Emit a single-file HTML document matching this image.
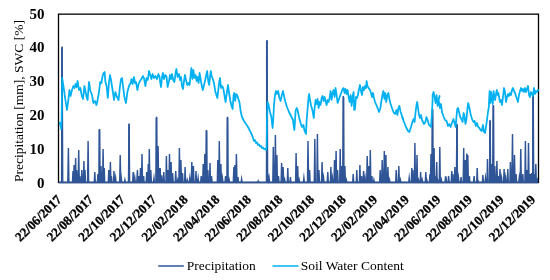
<!DOCTYPE html>
<html><head><meta charset="utf-8"><title>Precipitation and Soil Water Content</title>
<style>
html,body{margin:0;padding:0;background:#fff;}
body{width:550px;height:280px;overflow:hidden;}
svg{display:block;font-family:"Liberation Serif","Times New Roman",serif;}
.b{font-weight:bold;font-size:14px;fill:#000;}
.r{font-size:13.5px;fill:#000;}
.y{font-size:15px;}
.x{font-size:13.05px;stroke:#000;stroke-width:0.3px;}
</style></head><body>
<svg width="550" height="280" viewBox="0 0 550 280">
<rect x="0" y="0" width="550" height="280" fill="#fff"/>
<rect x="58.5" y="14.15" width="480.0" height="168.35" fill="none" stroke="#000" stroke-width="1.3"/>
<clipPath id="pc"><rect x="58.5" y="14.0" width="480.0" height="169.3"/></clipPath>
<polyline clip-path="url(#pc)" points="58.5,182.5 59.0,182.5 59.5,182.5 60.1,182.5 60.6,182.5 61.1,182.5 61.6,182.5 62.1,46.4 62.7,182.5 63.2,182.5 63.7,182.5 64.2,182.5 64.7,182.5 65.2,182.5 65.8,182.5 66.3,182.5 66.8,182.5 67.3,182.5 67.8,182.5 68.4,148.0 68.9,182.5 69.4,182.5 69.9,182.5 70.4,182.5 71.0,182.5 71.5,182.5 72.0,182.5 72.5,182.5 73.0,171.0 73.5,182.5 74.1,165.0 74.6,182.5 75.1,182.5 75.6,158.0 76.1,182.5 76.7,170.0 77.2,182.5 77.7,182.5 78.2,182.5 78.7,150.0 79.3,182.5 79.8,176.0 80.3,182.5 80.8,182.5 81.3,182.5 81.8,170.0 82.4,182.5 82.9,182.5 83.4,182.5 83.9,161.0 84.4,182.5 85.0,170.0 85.5,182.5 86.0,182.5 86.5,182.5 87.0,182.5 87.6,182.5 88.1,141.0 88.6,182.5 89.1,182.5 89.6,182.5 90.1,182.5 90.7,182.5 91.2,182.5 91.7,182.5 92.2,182.5 92.7,182.5 93.3,182.5 93.8,182.5 94.3,182.5 94.8,172.0 95.3,182.5 95.9,182.5 96.4,182.5 96.9,182.5 97.4,182.5 97.9,174.0 98.4,182.5 99.0,182.5 99.5,128.9 100.0,182.5 100.5,182.5 101.0,166.0 101.6,182.5 102.1,182.5 102.6,182.5 103.1,149.0 103.6,182.5 104.2,168.0 104.7,182.5 105.2,182.5 105.7,182.5 106.2,182.5 106.7,182.5 107.3,182.5 107.8,182.5 108.3,182.5 108.8,170.0 109.3,182.5 109.9,182.5 110.4,162.0 110.9,182.5 111.4,176.0 111.9,182.5 112.5,182.5 113.0,182.5 113.5,182.5 114.0,171.0 114.5,182.5 115.0,182.5 115.6,178.0 116.1,182.5 116.6,182.5 117.1,182.5 117.6,182.5 118.2,182.5 118.7,182.5 119.2,182.5 119.7,182.5 120.2,155.0 120.8,182.5 121.3,178.0 121.8,182.5 122.3,182.5 122.8,182.5 123.4,182.5 123.9,182.5 124.4,182.5 124.9,180.0 125.4,182.5 125.9,182.5 126.5,182.5 127.0,182.5 127.5,182.5 128.0,182.5 128.5,182.5 129.1,123.5 129.6,182.5 130.1,182.5 130.6,182.5 131.1,182.5 131.7,182.5 132.2,182.5 132.7,182.5 133.2,172.0 133.7,182.5 134.2,182.5 134.8,178.0 135.3,182.5 135.8,182.5 136.3,182.5 136.8,182.5 137.4,170.0 137.9,182.5 138.4,182.5 138.9,176.0 139.4,182.5 140.0,182.5 140.5,168.0 141.0,182.5 141.5,182.5 142.0,154.0 142.5,182.5 143.1,182.5 143.6,176.0 144.1,182.5 144.6,182.5 145.1,182.5 145.7,182.5 146.2,182.5 146.7,172.0 147.2,182.5 147.7,182.5 148.3,164.0 148.8,182.5 149.3,149.0 149.8,182.5 150.3,182.5 150.8,170.0 151.4,182.5 151.9,182.5 152.4,182.5 152.9,182.5 153.4,182.5 154.0,178.0 154.5,182.5 155.0,182.5 155.5,182.5 156.0,182.5 156.6,116.8 157.1,182.5 157.6,182.5 158.1,146.0 158.6,182.5 159.1,168.0 159.7,182.5 160.2,168.0 160.7,182.5 161.2,176.0 161.7,176.0 162.3,182.5 162.8,182.5 163.3,182.5 163.8,172.0 164.3,182.5 164.9,182.5 165.4,182.5 165.9,182.5 166.4,156.0 166.9,182.5 167.4,182.5 168.0,170.0 168.5,182.5 169.0,182.5 169.5,154.0 170.0,182.5 170.6,182.5 171.1,162.0 171.6,182.5 172.1,182.5 172.6,173.0 173.2,182.5 173.7,182.5 174.2,182.5 174.7,182.5 175.2,182.5 175.7,171.0 176.3,182.5 176.8,182.5 177.3,182.5 177.8,180.0 178.3,182.5 178.9,182.5 179.4,148.0 179.9,182.5 180.4,182.5 180.9,160.0 181.5,182.5 182.0,182.5 182.5,173.0 183.0,182.5 183.5,182.5 184.0,182.5 184.6,182.5 185.1,167.0 185.6,182.5 186.1,182.5 186.6,182.5 187.2,180.0 187.7,182.5 188.2,182.5 188.7,182.5 189.2,182.5 189.8,178.0 190.3,182.5 190.8,182.5 191.3,182.5 191.8,162.0 192.4,182.5 192.9,182.5 193.4,166.0 193.9,182.5 194.4,182.5 194.9,182.5 195.5,182.5 196.0,171.0 196.5,182.5 197.0,182.5 197.5,182.5 198.1,178.0 198.6,182.5 199.1,182.5 199.6,182.5 200.1,182.5 200.7,182.5 201.2,176.0 201.7,182.5 202.2,182.5 202.7,182.5 203.2,164.0 203.8,182.5 204.3,182.5 204.8,154.0 205.3,182.5 205.8,182.5 206.4,129.9 206.9,182.5 207.4,182.5 207.9,170.0 208.4,182.5 209.0,182.5 209.5,182.5 210.0,163.0 210.5,182.5 211.0,182.5 211.5,176.0 212.1,182.5 212.6,182.5 213.1,182.5 213.6,182.5 214.1,182.5 214.7,182.5 215.2,182.5 215.7,182.5 216.2,182.5 216.7,182.5 217.3,182.5 217.8,160.0 218.3,182.5 218.8,182.5 219.3,141.0 219.8,182.5 220.4,182.5 220.9,164.0 221.4,182.5 221.9,182.5 222.4,178.0 223.0,182.5 223.5,182.5 224.0,182.5 224.5,182.5 225.0,182.5 225.6,176.0 226.1,182.5 226.6,182.5 227.1,182.5 227.6,116.8 228.1,182.5 228.7,182.5 229.2,180.0 229.7,182.5 230.2,182.5 230.7,182.5 231.3,182.5 231.8,182.5 232.3,182.5 232.8,182.5 233.3,182.5 233.9,167.0 234.4,182.5 234.9,165.0 235.4,182.5 235.9,182.5 236.4,154.0 237.0,182.5 237.5,182.5 238.0,177.0 238.5,182.5 239.0,182.5 239.6,182.5 240.1,182.5 240.6,182.5 241.1,182.5 241.6,179.0 242.2,182.5 242.7,182.5 243.2,182.5 243.7,182.5 244.2,182.5 244.7,182.5 245.3,182.5 245.8,182.5 246.3,182.5 246.8,182.5 247.3,182.5 247.9,182.5 248.4,182.5 248.9,182.5 249.4,182.5 249.9,182.5 250.5,182.5 251.0,182.5 251.5,182.5 252.0,182.5 252.5,182.5 253.1,182.5 253.6,182.5 254.1,182.5 254.6,182.5 255.1,182.5 255.6,182.5 256.2,182.5 256.7,182.5 257.2,182.5 257.7,182.5 258.2,181.0 258.8,182.5 259.3,182.5 259.8,182.5 260.3,182.5 260.8,182.5 261.4,182.5 261.9,182.5 262.4,182.5 262.9,182.5 263.4,182.5 263.9,182.5 264.5,182.5 265.0,182.5 265.5,182.5 266.0,182.5 266.5,182.5 267.1,40.0 267.6,182.5 268.1,178.0 268.6,182.5 269.1,178.0 269.7,182.5 270.2,182.5 270.7,182.5 271.2,182.5 271.7,182.5 272.2,182.5 272.8,182.5 273.3,147.0 273.8,182.5 274.3,182.5 274.8,182.5 275.4,135.0 275.9,182.5 276.4,182.5 276.9,155.0 277.4,182.5 278.0,182.5 278.5,176.0 279.0,182.5 279.5,182.5 280.0,182.5 280.5,182.5 281.1,182.5 281.6,163.0 282.1,182.5 282.6,182.5 283.1,167.0 283.7,182.5 284.2,182.5 284.7,180.0 285.2,182.5 285.7,182.5 286.3,182.5 286.8,182.5 287.3,182.5 287.8,168.0 288.3,182.5 288.8,182.5 289.4,182.5 289.9,182.5 290.4,177.0 290.9,182.5 291.4,182.5 292.0,182.5 292.5,182.5 293.0,182.5 293.5,182.5 294.0,182.5 294.6,182.5 295.1,182.5 295.6,182.5 296.1,153.0 296.6,182.5 297.1,182.5 297.7,166.0 298.2,182.5 298.7,182.5 299.2,180.0 299.7,182.5 300.3,182.5 300.8,182.5 301.3,182.5 301.8,182.5 302.3,182.5 302.9,182.5 303.4,182.5 303.9,178.0 304.4,182.5 304.9,182.5 305.4,182.5 306.0,182.5 306.5,182.5 307.0,182.5 307.5,182.5 308.0,141.0 308.6,182.5 309.1,182.5 309.6,170.0 310.1,182.5 310.6,182.5 311.2,182.5 311.7,182.5 312.2,182.5 312.7,182.5 313.2,182.5 313.7,182.5 314.3,182.5 314.8,139.0 315.3,182.5 315.8,182.5 316.3,182.5 316.9,182.5 317.4,134.0 317.9,182.5 318.4,182.5 318.9,170.0 319.5,182.5 320.0,182.5 320.5,182.5 321.0,182.5 321.5,182.5 322.1,162.0 322.6,182.5 323.1,182.5 323.6,178.0 324.1,182.5 324.6,182.5 325.2,182.5 325.7,182.5 326.2,182.5 326.7,182.5 327.2,182.5 327.8,172.0 328.3,182.5 328.8,182.5 329.3,182.5 329.8,182.5 330.4,182.5 330.9,167.0 331.4,182.5 331.9,182.5 332.4,178.0 332.9,182.5 333.5,182.5 334.0,182.5 334.5,160.0 335.0,182.5 335.5,182.5 336.1,151.0 336.6,182.5 337.1,182.5 337.6,170.0 338.1,182.5 338.7,182.5 339.2,182.5 339.7,182.5 340.2,149.0 340.7,182.5 341.2,182.5 341.8,166.0 342.3,182.5 342.8,182.5 343.3,96.1 343.8,182.5 344.4,182.5 344.9,166.0 345.4,182.5 345.9,182.5 346.4,180.0 347.0,182.5 347.5,182.5 348.0,182.5 348.5,182.5 349.0,182.5 349.5,182.5 350.1,182.5 350.6,182.5 351.1,182.5 351.6,182.5 352.1,182.5 352.7,182.5 353.2,174.0 353.7,182.5 354.2,182.5 354.7,182.5 355.3,182.5 355.8,182.5 356.3,182.5 356.8,170.0 357.3,182.5 357.8,182.5 358.4,182.5 358.9,182.5 359.4,182.5 359.9,165.0 360.4,182.5 361.0,182.5 361.5,176.0 362.0,182.5 362.5,182.5 363.0,182.5 363.6,171.0 364.1,182.5 364.6,182.5 365.1,178.0 365.6,182.5 366.1,182.5 366.7,182.5 367.2,156.0 367.7,182.5 368.2,182.5 368.7,166.0 369.3,182.5 369.8,182.5 370.3,150.0 370.8,182.5 371.3,182.5 371.9,176.0 372.4,182.5 372.9,182.5 373.4,182.5 373.9,180.0 374.4,182.5 375.0,182.5 375.5,182.5 376.0,182.5 376.5,182.5 377.0,182.5 377.6,182.5 378.1,182.5 378.6,182.5 379.1,182.5 379.6,182.5 380.2,170.0 380.7,182.5 381.2,182.5 381.7,182.5 382.2,160.0 382.8,182.5 383.3,182.5 383.8,182.5 384.3,151.0 384.8,182.5 385.3,182.5 385.9,155.0 386.4,182.5 386.9,182.5 387.4,182.5 387.9,167.0 388.5,182.5 389.0,182.5 389.5,180.0 390.0,182.5 390.5,182.5 391.1,182.5 391.6,182.5 392.1,182.5 392.6,182.5 393.1,182.5 393.6,182.5 394.2,182.5 394.7,182.5 395.2,182.5 395.7,182.5 396.2,170.0 396.8,182.5 397.3,182.5 397.8,182.5 398.3,182.5 398.8,166.0 399.4,182.5 399.9,182.5 400.4,180.0 400.9,182.5 401.4,182.5 401.9,182.5 402.5,182.5 403.0,182.5 403.5,182.5 404.0,182.5 404.5,182.5 405.1,182.5 405.6,182.5 406.1,182.5 406.6,182.5 407.1,182.5 407.7,182.5 408.2,182.5 408.7,182.5 409.2,178.0 409.7,182.5 410.2,182.5 410.8,182.5 411.3,182.5 411.8,168.0 412.3,182.5 412.8,170.0 413.4,182.5 413.9,182.5 414.4,182.5 414.9,143.0 415.4,182.5 416.0,182.5 416.5,182.5 417.0,155.0 417.5,182.5 418.0,182.5 418.5,180.0 419.1,182.5 419.6,182.5 420.1,182.5 420.6,172.0 421.1,182.5 421.7,182.5 422.2,180.0 422.7,182.5 423.2,182.5 423.7,182.5 424.3,182.5 424.8,182.5 425.3,182.5 425.8,172.0 426.3,182.5 426.8,180.0 427.4,182.5 427.9,182.5 428.4,182.5 428.9,182.5 429.4,182.5 430.0,174.0 430.5,182.5 431.0,154.0 431.5,182.5 432.0,182.5 432.6,109.0 433.1,182.5 433.6,182.5 434.1,148.0 434.6,182.5 435.1,182.5 435.7,176.0 436.2,182.5 436.7,162.0 437.2,182.5 437.7,180.0 438.3,182.5 438.8,182.5 439.3,182.5 439.8,147.0 440.3,182.5 440.9,182.5 441.4,180.0 441.9,182.5 442.4,182.5 442.9,182.5 443.4,182.5 444.0,182.5 444.5,182.5 445.0,182.5 445.5,177.0 446.0,177.0 446.6,182.5 447.1,182.5 447.6,182.5 448.1,182.5 448.6,176.0 449.2,182.5 449.7,182.5 450.2,182.5 450.7,182.5 451.2,182.5 451.8,171.0 452.3,182.5 452.8,174.0 453.3,182.5 453.8,182.5 454.3,182.5 454.9,167.0 455.4,182.5 455.9,182.5 456.4,182.5 456.9,123.8 457.5,182.5 458.0,182.5 458.5,178.0 459.0,182.5 459.5,182.5 460.1,182.5 460.6,182.5 461.1,177.0 461.6,182.5 462.1,182.5 462.6,182.5 463.2,182.5 463.7,148.0 464.2,182.5 464.7,182.5 465.2,160.0 465.8,182.5 466.3,182.5 466.8,153.6 467.3,182.5 467.8,155.0 468.4,182.5 468.9,182.5 469.4,176.0 469.9,182.5 470.4,182.5 470.9,182.5 471.5,182.5 472.0,182.5 472.5,182.5 473.0,182.5 473.5,182.5 474.1,176.0 474.6,182.5 475.1,182.5 475.6,182.5 476.1,182.5 476.7,182.5 477.2,168.0 477.7,182.5 478.2,181.0 478.7,182.5 479.2,182.5 479.8,182.5 480.3,182.5 480.8,182.5 481.3,182.5 481.8,182.5 482.4,182.5 482.9,175.0 483.4,182.5 483.9,182.5 484.4,182.5 485.0,182.5 485.5,178.0 486.0,182.5 486.5,182.5 487.0,182.5 487.5,159.0 488.1,182.5 488.6,182.5 489.1,182.5 489.6,182.5 490.1,120.1 490.7,182.5 491.2,182.5 491.7,164.0 492.2,182.5 492.7,182.5 493.3,104.9 493.8,182.5 494.3,182.5 494.8,166.0 495.3,182.5 495.8,182.5 496.4,182.5 496.9,161.0 497.4,182.5 497.9,182.5 498.4,176.0 499.0,182.5 499.5,182.5 500.0,169.0 500.5,182.5 501.0,182.5 501.6,178.0 502.1,182.5 502.6,182.5 503.1,182.5 503.6,182.5 504.1,169.0 504.7,182.5 505.2,182.5 505.7,178.0 506.2,182.5 506.7,182.5 507.3,182.5 507.8,169.0 508.3,182.5 508.8,182.5 509.3,182.5 509.9,182.5 510.4,162.0 510.9,182.5 511.4,182.5 511.9,182.5 512.5,134.0 513.0,182.5 513.5,182.5 514.0,182.5 514.5,155.0 515.0,182.5 515.6,182.5 516.1,174.0 516.6,182.5 517.1,182.5 517.6,182.5 518.2,182.5 518.7,182.5 519.2,178.0 519.7,182.5 520.2,182.5 520.8,149.0 521.3,182.5 521.8,182.5 522.3,182.5 522.8,174.0 523.3,182.5 523.9,182.5 524.4,182.5 524.9,182.5 525.4,141.0 525.9,182.5 526.5,182.5 527.0,170.0 527.5,182.5 528.0,182.5 528.5,143.0 529.1,182.5 529.6,182.5 530.1,174.0 530.6,182.5 531.1,182.5 531.6,173.0 532.2,182.5 532.7,182.5 533.2,95.1 533.7,182.5 534.2,174.0 534.8,182.5 535.3,182.5 535.8,164.0 536.3,182.5 536.8,182.5 537.4,180.0 537.9,182.5 538.4,182.5" fill="none" stroke="#2f5597" stroke-width="1.45" stroke-linejoin="miter" stroke-miterlimit="10"/>
<line x1="62.0" y1="182.5" x2="62.0" y2="47.2" stroke="#2f5597" stroke-width="1.7"/><line x1="99.4" y1="182.5" x2="99.4" y2="129.7" stroke="#2f5597" stroke-width="1.7"/><line x1="129.0" y1="182.5" x2="129.0" y2="124.3" stroke="#2f5597" stroke-width="1.7"/><line x1="156.4" y1="182.5" x2="156.4" y2="117.6" stroke="#2f5597" stroke-width="1.7"/><line x1="206.6" y1="182.5" x2="206.6" y2="130.7" stroke="#2f5597" stroke-width="1.7"/><line x1="227.4" y1="182.5" x2="227.4" y2="117.6" stroke="#2f5597" stroke-width="1.7"/><line x1="266.8" y1="182.5" x2="266.8" y2="40.8" stroke="#2f5597" stroke-width="1.7"/><line x1="343.5" y1="182.5" x2="343.5" y2="96.9" stroke="#2f5597" stroke-width="1.7"/><line x1="432.4" y1="182.5" x2="432.4" y2="109.8" stroke="#2f5597" stroke-width="1.7"/><line x1="457.0" y1="182.5" x2="457.0" y2="124.6" stroke="#2f5597" stroke-width="1.7"/><line x1="490.0" y1="182.5" x2="490.0" y2="120.9" stroke="#2f5597" stroke-width="1.7"/><line x1="493.4" y1="182.5" x2="493.4" y2="105.7" stroke="#2f5597" stroke-width="1.7"/><line x1="533.0" y1="182.5" x2="533.0" y2="95.9" stroke="#2f5597" stroke-width="1.7"/>
<line x1="59.1" y1="182.5" x2="537.9" y2="182.5" stroke="#2f5597" stroke-width="1.6"/>
<polyline points="59.4,122.0 60.4,125.0 61.2,129.0 61.6,120.0 62.2,78.0 64.0,90.0 65.4,100.0 67.0,110.0 68.6,98.0 69.4,90.0 70.6,96.0 72.0,90.0 73.4,86.0 74.6,88.0 75.6,84.0 76.6,87.0 77.6,81.0 79.0,90.0 80.4,88.0 81.6,95.0 83.0,99.0 84.4,86.0 85.6,92.0 86.6,97.0 87.6,100.0 89.0,82.0 90.4,91.0 92.0,95.0 93.4,103.0 95.0,101.0 96.4,105.0 97.6,100.0 99.0,92.0 100.2,82.0 101.4,83.0 102.6,76.0 103.6,73.0 104.6,72.0 105.4,82.0 106.6,86.0 107.8,98.0 109.0,82.0 110.0,75.0 111.0,80.0 112.6,90.0 114.0,100.0 115.4,92.0 117.0,97.0 118.6,100.0 120.0,86.0 121.0,79.0 122.0,78.0 123.0,86.0 124.4,97.0 126.0,103.0 127.4,92.0 129.0,86.0 130.6,83.0 131.6,79.0 132.6,84.0 134.0,77.0 135.0,83.0 136.0,82.0 137.4,90.0 138.6,84.0 140.0,81.0 141.4,79.0 143.0,76.0 144.2,79.0 145.4,86.0 146.6,78.0 147.8,80.0 149.0,71.0 150.2,75.0 151.4,79.0 152.6,74.0 154.0,78.0 155.4,76.0 157.0,79.0 158.4,74.0 159.6,77.0 160.0,81.0 161.0,87.0 162.0,77.0 163.0,73.0 164.0,79.0 165.4,75.0 166.6,77.0 167.6,87.0 169.0,81.0 170.0,75.0 171.0,79.0 172.0,74.0 173.2,80.0 174.4,82.0 175.6,73.0 176.4,69.0 177.6,77.0 179.0,74.0 180.0,80.0 181.0,77.0 182.0,86.0 183.0,89.0 184.0,81.0 185.0,75.0 186.0,80.0 187.2,85.0 188.4,83.0 189.6,85.0 190.6,75.0 191.4,68.0 192.4,79.0 193.4,70.0 194.4,78.0 195.6,75.0 196.6,81.0 197.6,77.0 198.6,83.0 199.6,73.0 200.6,79.0 201.6,85.0 202.8,90.0 204.0,85.0 205.2,80.0 206.4,74.0 207.2,71.0 208.2,81.0 209.2,85.0 210.0,77.0 210.8,71.0 211.6,76.0 212.8,79.0 214.0,83.0 215.2,91.0 216.4,95.0 217.4,98.0 218.4,89.0 219.4,81.0 220.0,78.0 221.0,88.0 222.0,86.0 223.2,88.0 224.4,95.0 225.6,102.0 226.8,93.0 228.0,85.0 229.0,93.0 230.4,101.0 231.6,106.0 232.6,109.0 233.6,95.0 234.2,93.0 235.2,101.0 236.2,94.0 237.2,95.0 238.4,99.0 239.6,103.0 240.6,111.0 242.0,117.0 244.0,121.0 246.0,124.0 248.0,127.0 250.0,131.0 252.0,135.0 254.0,141.0 255.0,140.0 256.0,143.0 257.0,142.4 258.0,145.0 259.0,144.4 260.0,146.4 261.0,146.0 262.0,148.0 263.0,147.6 264.0,149.0 265.0,148.8 266.0,150.0 266.6,148.0 267.0,121.0 267.6,102.0 268.6,105.0 270.0,112.0 271.4,117.0 272.2,125.0 272.6,128.0 273.4,117.0 274.0,105.0 275.0,95.0 276.0,91.0 277.0,94.0 278.2,91.0 279.4,98.0 280.6,101.0 281.8,95.0 283.0,91.0 284.2,97.0 285.4,102.0 287.0,107.0 289.0,112.0 291.0,116.0 293.0,120.0 293.8,127.0 294.4,130.0 295.0,121.0 295.6,111.0 296.6,108.0 297.6,110.0 299.0,117.0 300.6,123.0 302.0,127.0 303.4,125.0 304.6,131.0 306.0,134.0 306.6,121.0 307.6,109.0 308.6,97.0 309.2,94.0 310.0,100.0 311.0,105.0 312.6,111.0 313.8,118.0 314.6,108.0 315.6,100.0 316.6,104.0 317.6,99.0 318.6,108.0 319.6,102.0 320.6,105.0 321.6,98.0 322.6,96.0 323.6,101.0 324.6,97.0 325.6,101.0 326.6,105.0 327.6,100.0 328.6,102.0 329.6,98.0 330.6,91.0 331.6,100.0 332.6,93.0 333.6,90.0 334.6,97.0 335.6,88.0 336.6,95.0 337.6,103.0 339.0,99.0 340.4,95.0 341.6,92.0 342.6,89.0 343.6,88.0 344.6,93.0 345.6,89.0 346.6,94.0 347.6,90.0 348.6,97.0 349.6,102.0 350.6,95.0 351.6,106.0 352.6,97.0 353.6,92.0 354.2,110.0 355.0,109.0 356.0,97.0 357.0,98.0 358.0,95.0 359.0,89.0 360.0,85.0 361.0,91.0 362.0,95.0 363.0,87.0 364.0,90.0 365.0,86.0 366.0,88.0 366.6,81.0 367.4,86.0 368.6,88.0 370.0,90.0 371.0,93.0 372.0,97.0 373.0,93.0 374.0,98.0 375.0,102.0 376.4,105.0 377.6,108.0 379.0,112.0 380.2,109.0 381.4,101.0 382.4,95.0 383.4,91.0 384.4,99.0 385.2,93.0 386.2,102.0 387.4,95.0 388.4,93.0 389.4,99.0 390.6,104.0 392.0,108.0 393.4,112.0 395.0,114.0 396.4,110.0 397.4,115.0 398.4,108.0 399.4,106.0 400.6,112.0 402.0,116.0 403.4,119.0 402.0,117.0 404.0,122.0 406.0,127.0 408.0,131.0 409.4,132.0 411.0,127.0 412.4,122.0 413.6,119.0 414.6,122.0 415.6,112.0 416.6,104.0 417.2,102.0 418.0,108.0 419.0,115.0 420.0,118.0 421.0,115.0 422.0,120.0 424.0,124.0 425.4,122.0 426.4,117.0 427.6,120.0 429.0,125.0 430.0,126.0 431.0,127.0 432.0,112.0 432.6,100.0 432.6,95.0 433.6,92.0 434.6,97.0 435.6,103.0 436.6,95.0 437.6,106.0 438.6,99.0 439.6,96.0 438.6,100.0 440.0,108.0 441.0,104.0 442.0,112.0 443.4,116.0 445.0,120.0 446.6,121.0 448.0,126.0 449.4,124.0 450.6,127.0 452.0,123.0 453.4,119.0 454.6,123.0 455.6,127.0 456.4,118.0 457.2,109.0 458.0,108.0 459.0,112.0 460.2,117.0 461.4,119.0 462.6,122.0 463.6,113.0 464.4,115.0 465.4,124.0 466.4,120.0 467.4,109.0 468.2,103.0 469.4,108.0 470.6,114.0 472.0,119.0 473.4,122.0 474.6,121.0 475.8,126.0 477.0,123.0 478.2,127.0 479.4,128.0 480.6,130.0 481.8,131.0 483.0,125.0 484.0,132.0 485.0,133.0 486.0,127.0 487.0,120.0 488.0,112.0 489.0,106.0 489.0,103.0 489.6,91.0 490.4,103.0 491.2,92.0 492.0,99.0 492.8,104.0 493.6,91.0 494.4,98.0 495.2,100.0 496.0,94.0 496.8,90.0 497.6,95.0 498.4,93.0 499.2,98.0 500.0,102.0 501.0,100.0 502.0,105.0 503.0,97.0 504.0,88.0 505.0,92.0 506.0,102.0 507.0,97.0 508.0,94.0 509.0,96.0 510.0,93.0 511.0,95.0 512.0,90.0 513.0,88.0 514.0,91.0 515.0,93.0 516.0,96.0 517.0,99.0 518.0,102.0 519.0,95.0 520.0,91.0 521.0,88.0 522.0,91.0 523.0,89.0 524.0,92.0 525.0,88.0 526.0,92.0 527.0,89.0 528.0,86.0 529.0,95.0 530.0,97.0 531.0,92.0 532.0,94.0 533.0,96.0 534.0,88.0 535.0,94.0 536.0,91.0 537.0,92.0 538.0,90.0 538.6,91.0" fill="none" stroke="#00b0f0" stroke-width="1.75" stroke-linejoin="round"/>
<text x="44.5" y="187.6" text-anchor="end" class="b y">0</text><text x="44.5" y="153.8" text-anchor="end" class="b y">10</text><text x="44.5" y="120.0" text-anchor="end" class="b y">20</text><text x="44.5" y="86.2" text-anchor="end" class="b y">30</text><text x="44.5" y="52.4" text-anchor="end" class="b y">40</text><text x="44.5" y="18.6" text-anchor="end" class="b y">50</text>
<text transform="translate(62.40,200.3) rotate(-45)" text-anchor="end" class="b x">22/06/2017</text><text transform="translate(93.98,200.3) rotate(-45)" text-anchor="end" class="b x">22/08/2017</text><text transform="translate(125.56,200.3) rotate(-45)" text-anchor="end" class="b x">22/10/2017</text><text transform="translate(157.14,200.3) rotate(-45)" text-anchor="end" class="b x">22/12/2017</text><text transform="translate(188.72,200.3) rotate(-45)" text-anchor="end" class="b x">22/02/2018</text><text transform="translate(220.30,200.3) rotate(-45)" text-anchor="end" class="b x">22/04/2018</text><text transform="translate(251.88,200.3) rotate(-45)" text-anchor="end" class="b x">22/06/2018</text><text transform="translate(283.46,200.3) rotate(-45)" text-anchor="end" class="b x">22/08/2018</text><text transform="translate(315.04,200.3) rotate(-45)" text-anchor="end" class="b x">22/10/2018</text><text transform="translate(346.62,200.3) rotate(-45)" text-anchor="end" class="b x">22/12/2018</text><text transform="translate(378.20,200.3) rotate(-45)" text-anchor="end" class="b x">22/02/2019</text><text transform="translate(409.78,200.3) rotate(-45)" text-anchor="end" class="b x">22/04/2019</text><text transform="translate(441.36,200.3) rotate(-45)" text-anchor="end" class="b x">22/06/2019</text><text transform="translate(472.94,200.3) rotate(-45)" text-anchor="end" class="b x">22/08/2019</text><text transform="translate(504.52,200.3) rotate(-45)" text-anchor="end" class="b x">22/10/2019</text><text transform="translate(536.10,200.3) rotate(-45)" text-anchor="end" class="b x">22/12/2019</text>
<text transform="translate(23,101) rotate(-90)" text-anchor="middle" class="r">Precipitation [mm], SWC [%]</text>
<line x1="158.2" y1="266" x2="183.8" y2="266" stroke="#2f5597" stroke-width="1.5"/>
<text x="186.7" y="270.3" class="r">Precipitation</text>
<line x1="272.5" y1="266" x2="298.5" y2="266" stroke="#00b0f0" stroke-width="1.5"/>
<text x="300.8" y="270.3" class="r">Soil Water Content</text>
</svg>
</body></html>
